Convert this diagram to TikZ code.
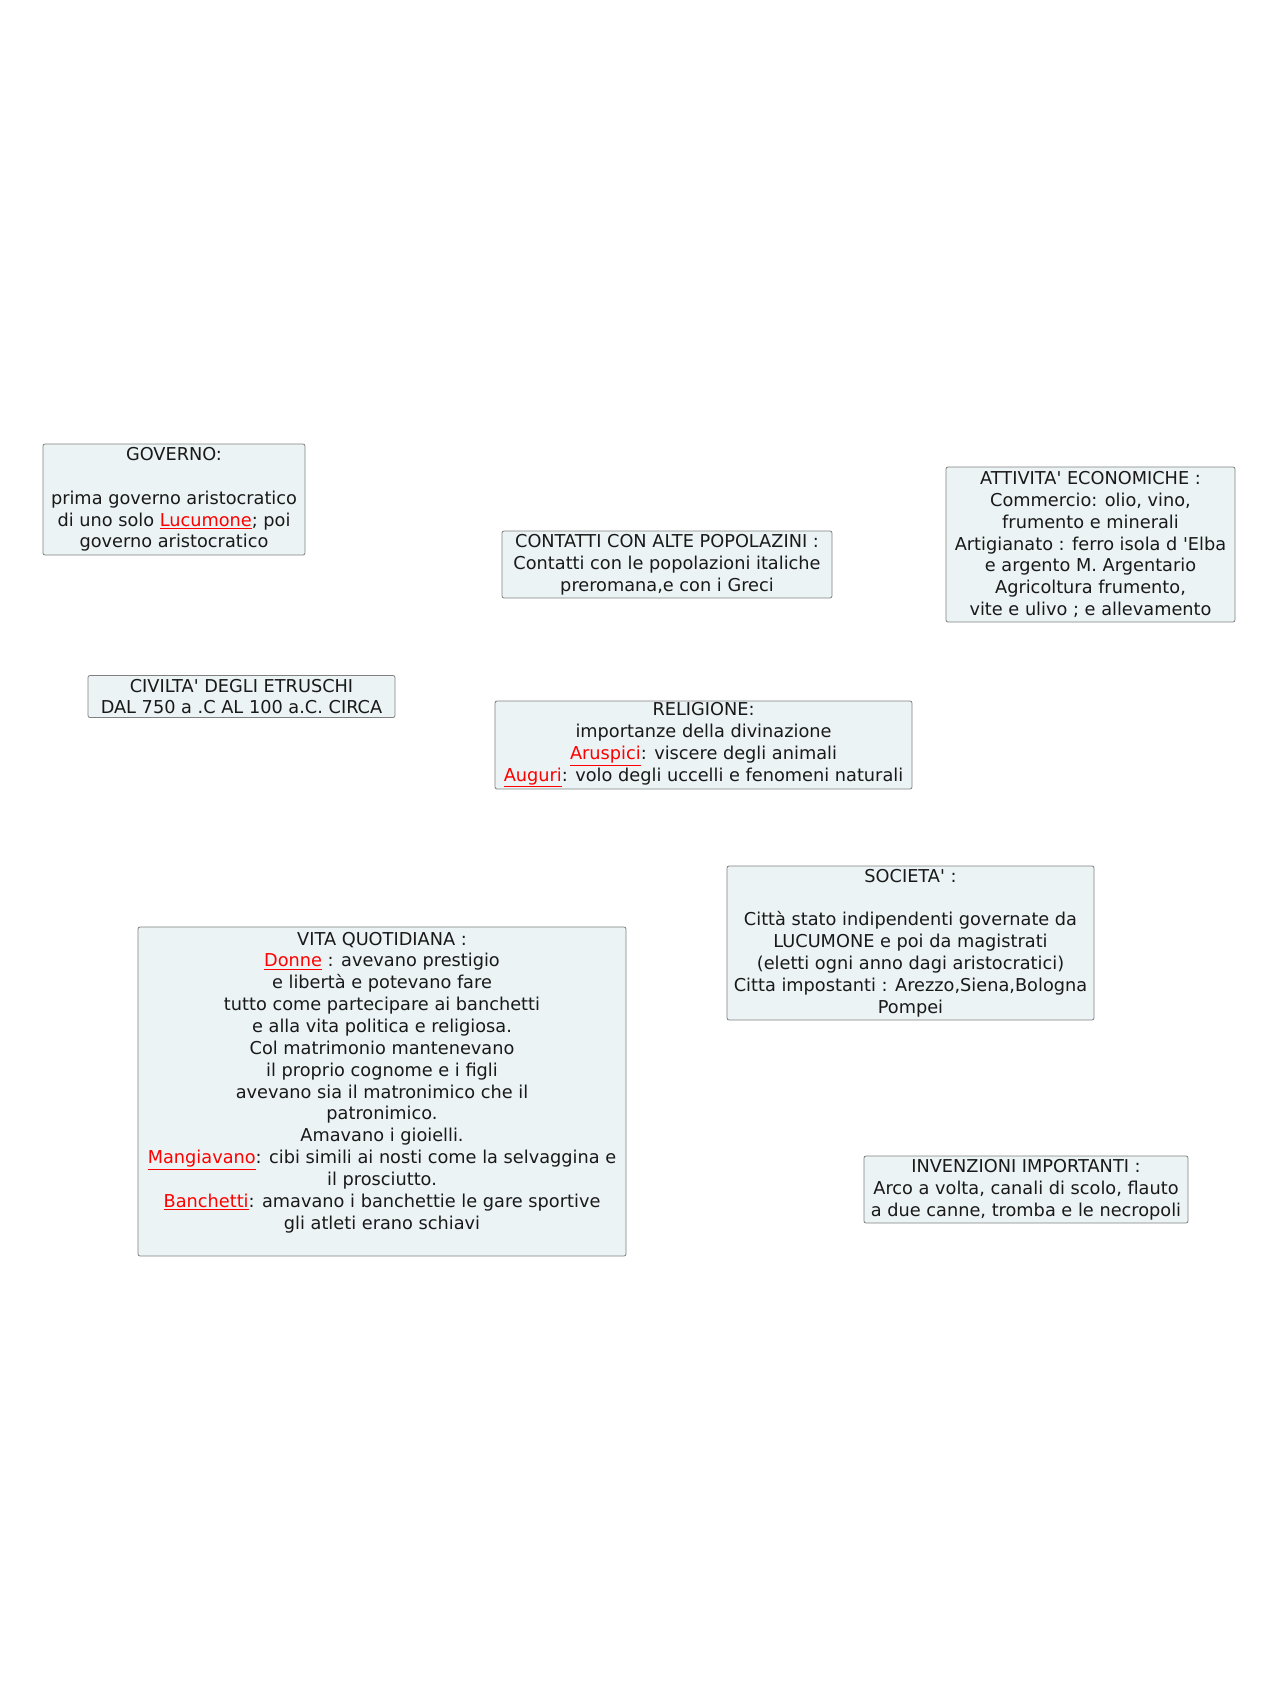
\documentclass[tikz,border=0pt]{standalone}
\usepackage{xcolor}
\usepackage{fontspec}
\setmainfont{DejaVu Sans}
\usepackage{tikz}
\usetikzlibrary{positioning}
\definecolor{fondo}{RGB}{236,243,245}
\definecolor{bordo}{RGB}{128,128,128}
\definecolor{testo}{RGB}{25,25,25}
\tikzset{
	riquadro/.style={draw=bordo,fill=fondo,rounded corners=1.5pt,line width=0.6pt,
		align=center,inner sep=0pt,text=testo,
		font=\fontsize{13.3}{16.4}\selectfont}
}
\newcommand{\rosso}[1]{\textcolor{red}{\underline{#1}}}
\newcommand{\ap}{\textquotesingle}

\begin{document}
\begin{tikzpicture}[x=0.75pt,y=-0.75pt]
				\def\px{0.75pt}
				\useasboundingbox (0,0) rectangle (1280,1701); % pagina intera
				
				%Colonna sinistra
				\node[riquadro,minimum width=262*\px,minimum height=111*\px] (governo) at (174,499.5)
				{GOVERNO:\\ ~\\ prima governo aristocratico\\ di uno solo \rosso{Lucumone}; poi\\ governo aristocratico};
				\node[riquadro,minimum width=307*\px,minimum height=42*\px] (civilta) at (241.5,696.5)
				{CIVILTA\ap{} DEGLI ETRUSCHI\\ DAL 750 a .C AL 100 a.C. CIRCA};
				\node[riquadro,minimum width=488*\px,minimum height=329*\px] (vita) at (382,1091.5)
				{VITA QUOTIDIANA :\\ \rosso{Donne} : avevano prestigio\\ e libertà e potevano fare\\
				tutto come partecipare ai banchetti\\ e alla vita politica e religiosa.\\
				Col matrimonio mantenevano\\ il proprio cognome e i figli\\
				avevano sia il matronimico che il\\ patronimico.\\ Amavano i gioielli.\\
				\rosso{Mangiavano}: cibi simili ai nosti come la selvaggina e\\ il prosciutto.\\
				\rosso{Banchetti}: amavano i banchettie le gare sportive\\ gli atleti erano schiavi\\ ~};
				
				%Centro
				\node[riquadro,minimum width=330*\px,minimum height=67*\px] (contatti) at (667,564.5)
				{CONTATTI CON ALTE POPOLAZINI :\\ Contatti con le popolazioni italiche\\ preromana,e con i Greci};
				\node[riquadro,minimum width=417*\px,minimum height=88*\px] (religione) at (703.5,745)
				{RELIGIONE:\\ importanze della divinazione\\ \rosso{Aruspici}: viscere degli animali\\
				\rosso{Auguri}: volo degli uccelli e fenomeni naturali};
				
				%Colonna destra
				\node[riquadro,minimum width=289*\px,minimum height=155*\px] (attivita) at (1090.5,544.5)
				{ATTIVITA\ap{} ECONOMICHE :\\ Commercio: olio, vino,\\ frumento e minerali\\
				Artigianato : ferro isola d \ap Elba\\ e argento M. Argentario\\
				Agricoltura frumento,\\ vite e ulivo ; e allevamento};
				\node[riquadro,minimum width=367*\px,minimum height=154*\px] (societa) at (910.5,943)
				{SOCIETA\ap{} :\\ ~\\ Città stato indipendenti governate da\\ LUCUMONE e poi da magistrati\\
				(eletti ogni anno dagi aristocratici)\\ Citta impostanti : Arezzo,Siena,Bologna\\ Pompei};
				\node[riquadro,minimum width=324*\px,minimum height=67*\px] (invenzioni) at (1026,1189.5)
				{INVENZIONI IMPORTANTI :\\ Arco a volta, canali di scolo, flauto\\ a due canne, tromba e le necropoli};
				
\end{tikzpicture}
\end{document}
